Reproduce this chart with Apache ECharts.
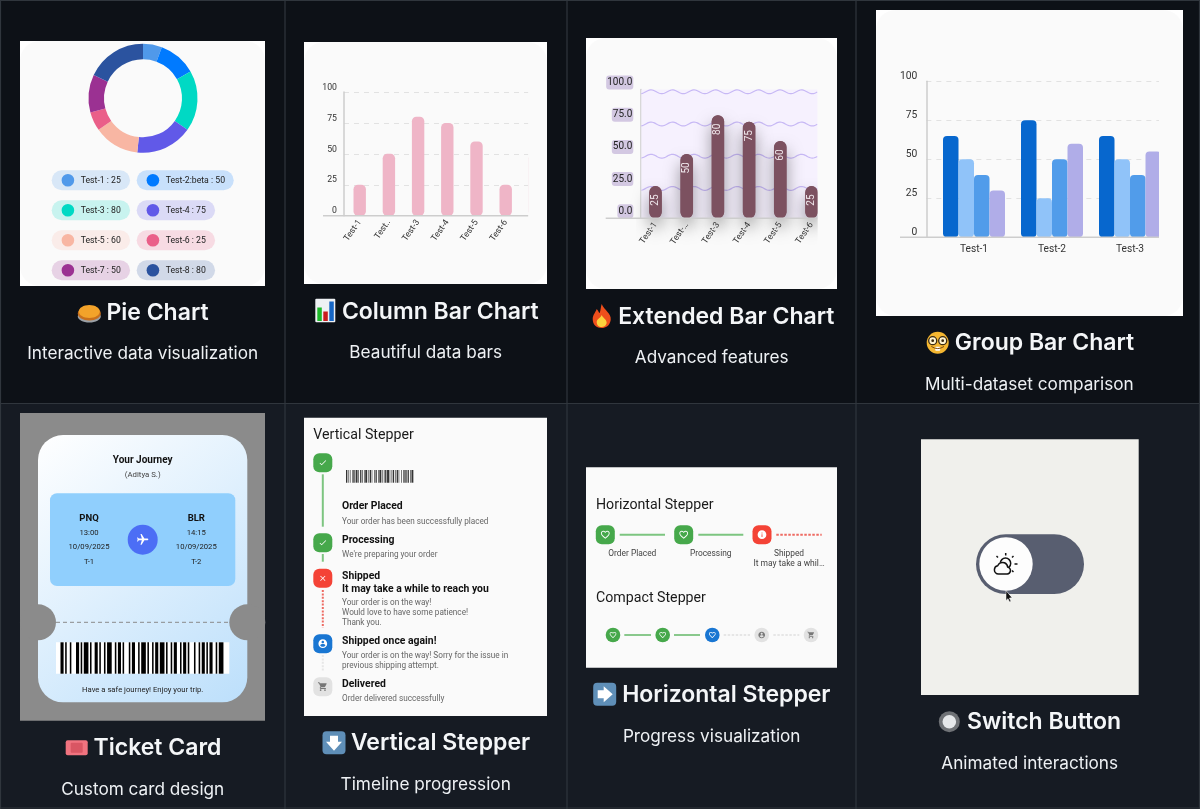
<!DOCTYPE html>
<html><head><meta charset="utf-8">
<style>html,body{margin:0;padding:0;background:#0d1117}#c{width:1200px;height:809px}</style>
<script src="https://cdn.jsdelivr.net/npm/echarts@6/dist/echarts.min.js"></script>
</head><body><div id="c"></div>
<script>
// ---------- data ----------
const pieLabels = ['Test-1','Test-2:beta','Test-3','Test-4','Test-5','Test-6','Test-7','Test-8'];
const pieValues = [25,50,80,75,60,25,50,80];
const pieColors = ['#5099EA','#007AFF','#00D9C4','#6159E8','#F8B6A3','#EA5F89','#9B3192','#2B539F'];
const columnLabels = ['Test-1','Test..','Test-3','Test-4','Test-5','Test-6','Test-7','Test-8'];
const columnValues = [25,50,80,75,60,25,50,80];
const extendedLabels = ['Test-1','Test-…','Test-3','Test-4','Test-5','Test-6'];
const extendedValues = [25,50,80,75,60,25];
const waveLevels = [100,75,50,25];
const groupLabels = ['Test-1','Test-2','Test-3'];
const groupA = [65,75,65];
const groupB = [50,25,50];
const groupC = [40,50,40];
const groupD = [30,60,55];
const groupColors = ['#0767CE','#90C3F9','#519CEA','#B0ADE8'];
const cardTitles = ['Pie Chart','Column Bar Chart','Extended Bar Chart','Group Bar Chart','Ticket Card','Vertical Stepper','Horizontal Stepper','Switch Button'];
const cardSubs = ['Interactive data visualization','Beautiful data bars','Advanced features','Multi-dataset comparison','Custom card design','Timeline progression','Progress visualization','Animated interactions'];
const barcodeWidths = [2,1,1,2,1,3,2,1,1,1,3,1,1,2,2,1,1,2,1,1,3,2,1,1,2,1,1,3,1,1,2,2,1,1,3,1,1,2,1,1,2,1,3,1,1,2,1,1,2,2,1,1,2,1,1,3,1,2,1,1,2,1,1,1,2,2,1,1,3,1];

// ---------- icons ----------
const ICON = {
 check:'M9 16.17L4.83 12l-1.42 1.41L9 19 21 7l-1.41-1.41z',
 close:'M19 6.41L17.59 5 12 10.59 6.41 5 5 6.41 10.59 12 5 17.59 6.41 19 12 13.41 17.59 19 19 17.59 13.41 12z',
 heart:'M16.5 3c-1.74 0-3.41.81-4.5 2.09C10.91 3.81 9.24 3 7.5 3 4.42 3 2 5.42 2 8.5c0 3.78 3.4 6.86 8.55 11.54L12 21.35l1.45-1.32C18.6 15.36 22 12.28 22 8.5 22 5.42 19.58 3 16.5 3zm-4.4 15.55l-.1.1-.1-.1C7.14 14.24 4 11.39 4 8.5 4 6.5 5.5 5 7.5 5c1.54 0 3.04.99 3.57 2.36h1.87C13.46 5.99 14.96 5 16.5 5c2 0 3.5 1.5 3.5 3.5 0 2.89-3.14 5.74-7.9 10.05z',
 info:'M12 2C6.48 2 2 6.48 2 12s4.48 10 10 10 10-4.48 10-10S17.52 2 12 2zm1 15h-2v-6h2v6zm0-8h-2V7h2v2z',
 user:'M12 2C6.48 2 2 6.48 2 12s4.48 10 10 10 10-4.48 10-10S17.52 2 12 2zm0 3c1.66 0 3 1.34 3 3s-1.34 3-3 3-3-1.34-3-3 1.34-3 3-3zm0 14.2c-2.5 0-4.71-1.28-6-3.22.03-1.99 4-3.08 6-3.08 1.99 0 5.97 1.09 6 3.08-1.29 1.94-3.5 3.22-6 3.22z',
 cart:'M7 18c-1.1 0-1.99.9-1.99 2S5.9 22 7 22s2-.9 2-2-.9-2-2-2zM1 2v2h2l3.6 7.59-1.35 2.45c-.16.28-.25.61-.25.96 0 1.1.9 2 2 2h12v-2H7.42c-.14 0-.25-.11-.25-.25l.03-.12.9-1.63h7.45c.75 0 1.41-.41 1.75-1.03l3.58-6.49c.08-.14.12-.31.12-.48 0-.55-.45-1-1-1H5.21l-.94-2H1zm16 16c-1.1 0-1.99.9-1.99 2s.89 2 1.99 2 2-.9 2-2-.9-2-2-2z',
 plane:'M21 16v-2l-8-5V3.5c0-.83-.67-1.5-1.5-1.5S10 2.67 10 3.5V9l-8 5v2l8-2.5V19l-2 1.5V22l3.5-1 3.5 1v-1.5L13 19v-5.5l8 2.5z'
};
// path shapes for the graphic component
let shapeId=0;
function pathShape(d){const n='svgPath'+(shapeId++);echarts.graphic.registerShape(n,echarts.graphic.extendPath(d,{}));return n;}

// ---------- graphic helpers ----------
const G = [];
const Z = 1;
function rect(x,y,w,h,fill,r,z){G.push({type:'rect',silent:true,z:z===undefined?Z:z,shape:{x,y,width:w,height:h,r:r||0},style:{fill}});}
function circle(cx,cy,r,fill,z,extra){G.push({type:'circle',silent:true,z:z===undefined?Z:z,shape:{cx,cy,r},style:Object.assign({fill},extra||{})});}
function line(x1,y1,x2,y2,stroke,lw,dash,z){G.push({type:'line',silent:true,z:z===undefined?Z:z,shape:{x1,y1,x2,y2},style:{stroke,lineWidth:lw||1,lineDash:dash||null}});}
function text(s,x,y,o){o=o||{};const a=o.a||'left';const dy=(o.f==='Inter')?0:0.7;
 G.push({type:'text',silent:true,z:o.z===undefined?Z:o.z,style:{text:s,x,y:y+dy,font:(o.w||400)+' '+(o.s||9)+'px '+(o.f||'Roboto'),fill:o.c||'#111',textAlign:a,align:a,textVerticalAlign:'middle',verticalAlign:'middle'}});}
function icon(d,cx,cy,size,fill,rot,z){const s=size/24;G.push({type:pathShape(d),silent:true,z:z===undefined?Z:z,x:cx-12,y:cy-12,originX:12,originY:12,scaleX:s,scaleY:s,rotation:rot||0,shape:{},style:{fill}});}
function rawPath(d,fill,stroke,lw,z){G.push({type:pathShape(d),silent:true,z:z===undefined?Z:z,shape:{},style:{fill:fill||'none',stroke:stroke||'none',lineWidth:lw||1,lineCap:'round'}});}

// page background and frame
const BG_Z=-2, P_Z=-1;
rect(0,0,1200,403,'#0d1117',0,BG_Z);
rect(0,403,1200,406,'#161b23',0,BG_Z);
const frame='#30363d';
[0.5,285,567,856,1199.5].forEach(x=>line(x,0,x,809,frame,1.2,null,BG_Z));
[0.5,403.5,808].forEach(y=>line(0,y,1200,y,frame,1.2,null,BG_Z));

// chart panels
function panel(x,y,w,h,r){rect(x,y,w,h,'#ffffff',0,P_Z);rect(x,y,w,h,'#fafafa',r,P_Z);}
panel(20,41,245,245,20);
panel(304,42,243,242,20);
panel(586,38,251,251,20);
panel(876,10,307,306,20);

// pie legend chips
const chipCol=[[51.7,78.3],[136.7,78.3]];
pieLabels.forEach((n,i)=>{
 const c=i%2, row=Math.floor(i/2), cy=180.3+row*30;
 const w=(i===1)?97:chipCol[c][1];
 G.push({type:'rect',silent:true,z:Z,shape:{x:chipCol[c][0],y:cy-10,width:w,height:20,r:10},style:{fill:pieColors[i],opacity:.2}});
 circle(chipCol[c][0]+16.2,cy,6.3,pieColors[i]);
 text(n+' : '+pieValues[i],chipCol[c][0]+29,cy,{s:8.7,c:'#222'});
});

// card titles
const titlePos=[[157.5,313,89.3],[440.3,312,325.3],[726.3,317,601.7],[1044.5,343.5,937.7],[157.5,748.5,76.7],[440.5,743.5,334],[726.3,695,604.7],[1044,722.5,949.3]];
const subPos=[[142.7,354],[425.7,353],[711.7,358],[1029.3,385],[142.7,790],[425.7,785],[711.7,736.5],[1029.7,763.5]];
cardTitles.forEach((t,i)=>text(t,titlePos[i][0],titlePos[i][1],{s:23,w:600,f:'Inter',c:'#f4f6f8',a:'center'}));
cardSubs.forEach((t,i)=>text(t,subPos[i][0],subPos[i][1],{s:17.2,f:'Inter',c:'#eef1f4',a:'center'}));

// emoji drawn as shapes
(function(){
 // pie
 let x=89.3,y=312.5;
 G.push({type:'ellipse',silent:true,z:Z,shape:{cx:x,cy:y+4,rx:11.5,ry:6},style:{fill:'#9aa0a6'}});
 G.push({type:'ellipse',silent:true,z:Z,shape:{cx:x,cy:y+1,rx:11.5,ry:7},style:{fill:'#c9701c'}});
 G.push({type:'ellipse',silent:true,z:Z,shape:{cx:x,cy:y-1,rx:10.5,ry:6.5},style:{fill:'#f3a32a'}});
 // bars
 x=325.3;y=310.5;
 rect(x-10,y-11.7,20,23.4,'#eef1f4',1);
 rect(x-8,y-3,4.5,13.5,'#1db82a');rect(x-2,y+1,4.5,9.5,'#c81e1e');rect(x+4,y-9,4.5,19.5,'#1666c5');
 // flame
 x=601.7;y=316;
 rawPath(`M${x} ${y-12} C${x+2} ${y-6} ${x+10} ${y-3} ${x+9} ${y+4} C${x+8} ${y+10} ${x+4} ${y+12} ${x} ${y+12} C${x-5} ${y+12} ${x-9} ${y+9} ${x-9} ${y+3} C${x-9} ${y-1} ${x-6} ${y-4} ${x-5} ${y-7} C${x-3} ${y-5} ${x-3} ${y-3} ${x-2} ${y-3} C${x-1} ${y-6} ${x-1} ${y-9} ${x} ${y-12}Z`,'#ee4f1c');
 rawPath(`M${x} ${y-1} C${x+1} ${y+2} ${x+5} ${y+3} ${x+5} ${y+7} C${x+4} ${y+10} ${x+2} ${y+11} ${x} ${y+11} C${x-3} ${y+11} ${x-5} ${y+9} ${x-5} ${y+6} C${x-5} ${y+3} ${x-1} ${y+2} ${x} ${y-1}Z`,'#fbd23c');
 // nerd
 x=937.7;y=342.7;
 circle(x,y,11,'#f5b731');
 rect(x-2.5,y+4,5,4,'#ffffff',1);
 rawPath(`M${x-6} ${y+4} Q${x} ${y+8} ${x+6} ${y+4}`,'none','#7a4a10',1);
 circle(x-5,y-2,4,'#fff4d0',Z,{stroke:'#3a2a10',lineWidth:1.3});circle(x+5,y-2,4,'#fff4d0',Z,{stroke:'#3a2a10',lineWidth:1.3});
 circle(x-5,y-2,1.4,'#3a2a10');circle(x+5,y-2,1.4,'#3a2a10');
 // ticket
 x=76.7;y=747.7;
 rect(x-11,y-7.5,22,15,'#f0737f',2);rect(x-6,y-5,12,10,'#d95663',1);
 // arrows
 x=334;y=742.7;
 rect(x-11.5,y-11.5,23,23,'#5f8fb8',4);
 rawPath(`M${x-4} ${y-7}h8v6h4l-8 9l-8 -9h4z`,'#ffffff');
 x=604.7;y=694.3;
 rect(x-11.5,y-11.5,23,23,'#5f8fb8',4);
 rawPath(`M${x-7} ${y-4}v8h6v4l9 -8l-9 -8v4z`,'#ffffff');
 // radio
 x=949.3;y=721.7;
 circle(x,y,10.5,'#6f7276');circle(x,y,6.8,'#e6e8ea');
})();

// ticket card
rect(20,413,245,307.7,'#8b8b8b',0,P_Z);
G.push({type:'rect',silent:true,z:Z,shape:{x:38,y:435,width:209.3,height:267.3,r:25},style:{fill:{type:'linear',x:0,y:0,x2:1,y2:1,colorStops:[{offset:0,color:'#ffffff'},{offset:1,color:'#bcdffb'}]}}});
text('Your Journey',142.7,460,{s:10,w:700,a:'center',c:'#111'});
text('(Aditya S.)',142.7,474,{s:7.8,a:'center',c:'#444'});
rect(50,493.3,185.3,92.7,'#90CFFD',7);
text('PNQ',89,518.3,{s:9.5,w:700,a:'center'});
text('13:00',89,532.3,{s:7.7,a:'center',c:'#222'});
text('10/09/2025',89,546.7,{s:7.7,a:'center',c:'#222'});
text('T-1',89,561,{s:7.7,a:'center',c:'#222'});
text('BLR',196.3,518.3,{s:9.5,w:700,a:'center'});
text('14:15',196.3,532.3,{s:7.7,a:'center',c:'#222'});
text('10/09/2025',196.3,546.7,{s:7.7,a:'center',c:'#222'});
text('T-2',196.3,561,{s:7.7,a:'center',c:'#222'});
circle(142.7,539.7,15,'#4C6EF5');
icon(ICON.plane,142.7,539.7,13.5,'#ffffff',-Math.PI/2);
circle(38,622.3,18,'#8b8b8b');circle(247.3,622.3,18,'#8b8b8b');
line(56,622.3,229.3,622.3,'#8a8a8a',1,[4,3]);
rect(56,642.3,173.3,31.4,'#ffffff');
function barcode(x0,x1,y0,y1,color){
 const total=barcodeWidths.reduce((a,b)=>a+b,0);let p=x0;const k=(x1-x0)/total;
 barcodeWidths.forEach((b,i)=>{if(i%2===0)rect(p,y0,b*k,y1-y0,color);p+=b*k;});
}
barcode(60.5,225,642.3,673.7,'#000000');
text('Have a safe journey! Enjoy your trip.',142.7,689,{s:7.7,a:'center',c:'#222'});

// vertical stepper
rect(304,417.7,243,298.3,'#fafafa',0,P_Z);
text('Vertical Stepper',313.3,434.3,{s:14.2,c:'#1a1a1a'});
const GREEN='#46A84B',RED='#F44336',BLUE='#1976D2',GREY='#E2E2E2';
function badge(cx,cy,color,ic,ig){rect(cx-9.5,cy-9.5,19,19,color,6);icon(ICON[ic],cx,cy,ic==='check'||ic==='close'?9:10.5,ig||'#ffffff');}
badge(322.8,462.7,GREEN,'check');badge(322.8,542.7,GREEN,'check');badge(322.8,578.3,RED,'close');badge(322.8,643.7,BLUE,'user');badge(322.8,686.7,GREY,'cart','#777777');
line(322.8,474.3,322.8,526.7,'#7DC580',2);
line(322.8,554,322.8,561.7,'#7DC580',2);
line(322.8,590,322.8,627.7,'#EE6B63',2,[2,1.4]);
line(322.8,655,322.8,671,'#E6E6E6',2,[2,1.4]);
barcode(346,414,470,482.7,'#333333');
const stepTitle={s:10.4,w:700,c:'#111'}, stepBody={s:8.2,c:'#666'};
[['Order Placed',506,stepTitle],['Your order has been successfully placed',521,stepBody],
 ['Processing',539.7,stepTitle],["We're preparing your order",554.3,stepBody],
 ['Shipped',575.3,stepTitle],['It may take a while to reach you',588.3,stepTitle],
 ['Your order is on the way!',602.7,stepBody],['Would love to have some patience!',612.3,stepBody],['Thank you.',622.3,stepBody],
 ['Shipped once again!',640.7,stepTitle],['Your order is on the way! Sorry for the issue in',655.7,stepBody],['previous shipping attempt.',665.3,stepBody],
 ['Delivered',683.7,stepTitle],['Order delivered successfully',698.3,stepBody]
].forEach(r=>text(r[0],342,r[1],r[2]));

// horizontal stepper
rect(586,467.3,251,200.4,'#fafafa',0,P_Z);
text('Horizontal Stepper',596,505,{s:14.2,c:'#1a1a1a'});
badge(605.3,534.7,GREEN,'heart');badge(683.7,534.7,GREEN,'heart');badge(762,534.7,RED,'info');
line(619.7,534.7,665,534.7,'#7DC580',2);line(698.3,534.7,743.3,534.7,'#7DC580',2);line(776.3,534.7,821.7,534.7,'#EE6B63',2,[2.5,1.5]);
text('Order Placed',632.3,553.3,{s:8.4,a:'center',c:'#444'});
text('Processing',710.7,553.3,{s:8.4,a:'center',c:'#444'});
text('Shipped',789,553.3,{s:8.4,a:'center',c:'#444'});
text('It may take a whil…',789,563.3,{s:8.5,a:'center',c:'#444'});
text('Compact Stepper',596,597.7,{s:14.2,c:'#1a1a1a'});
[[613,GREEN,'heart','#fff'],[662.7,GREEN,'heart','#fff'],[712.3,BLUE,'heart','#fff'],[761.7,GREY,'user','#777'],[811,GREY,'cart','#777']].forEach(a=>{circle(a[0],635,7.3,a[1]);icon(ICON[a[2]],a[0],635,8,a[3]);});
line(624.3,635,651,635,'#6DBB70',1.6);line(674,635,700,635,'#6DBB70',1.6);
line(723.7,635,750,635,'#E0E0E0',1.6,[2.5,1.5]);line(773.3,635,799.3,635,'#E0E0E0',1.6,[2.5,1.5]);

// switch
rect(921,439.3,217.7,255.7,'#F0F0EC',0,P_Z);
rect(976,534.3,108,59.7,'#585E70',29.8);
circle(1006,564,26.7,'#FDFDFD');
(function(){
 const k='#111';
 circle(1005.5,563.3,5.2,'#FDFDFD',Z,{stroke:k,lineWidth:1.5});
 [[1005.7,553,1005.7,555.5],[996.5,556,998,557.5],[1013.5,556,1012,557.5],[1014.5,564,1017.5,564],[1012,570.5,1013.5,572]].forEach(s=>line(s[0],s[1],s[2],s[3],k,1.5));
 rawPath('M998.5 574 a4.2 4.2 0 0 1 -0.8 -8.3 a5.2 5.2 0 0 1 10 1.4 a3.5 3.5 0 0 1 -0.4 6.9 z','#FDFDFD',k,1.5);
 rawPath('M1006 591 l0 9.5 l2 -1.8 l1.6 3.3 l1.4 -0.7 l-1.6 -3.2 l2.6 -0.3 z','#111111','#ffffff',0.5,110);
})();

// ---------- masks for the clipped charts ----------
rect(528.4,88,18.6,175,'#fafafa',0,100);
rect(817.7,80,19,180,'#fafafa',0,100);
rect(600,247,237,16,'#fafafa',0,100);
rect(606,219.2,30,28,'#fafafa',0,100);
rect(1159,70,23.7,175,'#fafafa',0,100);

// ---------- charts ----------
const AX='#CDCDCD', SPLIT='#E2E2E2', LBL='#333333';
function xRange(left,right,first,band){return {min:(left-first)/band,max:(right-first)/band};}
function yAxis(gi,o){return Object.assign({type:'value',gridIndex:gi,min:0,max:100,interval:25,
 axisLine:{show:true,onZero:false,lineStyle:{color:AX,width:1.5}},axisTick:{show:false},
 splitLine:{show:true,lineStyle:{color:SPLIT,type:[5,5],width:1}}},o);}
function xAxis(gi,r,labels,lab,count){return {type:'value',gridIndex:gi,min:r.min,max:r.max,z:7,
 axisLine:{show:false},axisTick:{show:false},splitLine:{show:false},
 axisLabel:Object.assign({customValues:labels.slice(0,count).map((_,i)=>i),formatter:v=>labels[v],color:LBL,fontFamily:'Roboto',showMinLabel:true,showMaxLabel:true,hideOverlap:false},lab)};}
const pts=a=>a.map((v,i)=>[i,v]);

// grid rectangles
const g2={left:344,top:92,right:528.3,bottom:215.7}, g3={left:640.3,top:89.5,right:817.7,bottom:218.3}, g4={left:926.3,top:81.3,right:1159,bottom:237.3};
const gridOf=g=>({left:g.left,top:g.top,width:g.right-g.left,height:g.bottom-g.top,containLabel:false});
line(323,g2.bottom,g2.right,g2.bottom,AX,1.5,null,8);
line(605.7,g3.bottom,g3.right,g3.bottom,AX,1.5,null,8);
line(900,g4.bottom,g4.right,g4.bottom,AX,1.5,null,8);

const option={
 animation:false,
 backgroundColor:'#0d1117',
 graphic:{elements:G},
 grid:[gridOf(g2),gridOf(g3),gridOf(g4)],
 xAxis:[
  xAxis(0,xRange(g2.left,g2.right,359.7,29.2),columnLabels,{rotate:55,fontSize:8.7,margin:5},7),
  xAxis(1,xRange(g3.left,g3.right,655.5,31.2),extendedLabels,{rotate:55,fontSize:8.7,margin:5},6),
  xAxis(2,xRange(g4.left,g4.right,974,78),groupLabels,{fontSize:10.2,margin:7},3)
 ],
 yAxis:[
  yAxis(0,{axisLabel:{color:LBL,fontSize:8.7,margin:7,fontFamily:'Roboto',verticalAlign:'bottom'}}),
  yAxis(1,{splitLine:{show:false},axisLabel:{color:'#222',fontSize:10,margin:7,fontFamily:'Roboto',verticalAlign:'bottom',backgroundColor:'#D3C8E2',borderRadius:3,padding:[2,1,2,1],formatter:v=>v.toFixed(1)}}),
  yAxis(2,{axisLabel:{color:LBL,fontSize:10.3,margin:9,fontFamily:'Roboto',verticalAlign:'bottom'}})
 ],
 series:[
  {type:'pie',center:[143,98.3],radius:[39,54.5],startAngle:90,silent:true,label:{show:false},labelLine:{show:false},
   data:pieLabels.map((n,i)=>({name:n,value:pieValues[i],itemStyle:{color:pieColors[i]}}))},
  {type:'bar',xAxisIndex:0,yAxisIndex:0,barWidth:12.4,silent:true,z:5,data:pts(columnValues),itemStyle:{color:'#EFB5C7',borderRadius:4.5}},
  {type:'custom',xAxisIndex:1,yAxisIndex:1,silent:true,z:1,data:[[0,100]],encode:{x:0,y:1},
   renderItem:(p,api)=>{const c=p.coordSys,b=api.coord([0,0])[1],t=api.coord([0,100])[1];
    return {type:'rect',shape:{x:c.x+1,y:t,width:c.width-1,height:b-t},style:{fill:'#F6F1FE'}};}},
  {type:'custom',xAxisIndex:1,yAxisIndex:1,silent:true,z:2,data:waveLevels.map(v=>[0,v]),encode:{x:0,y:1},
   renderItem:(p,api)=>{const c=p.coordSys,y=api.coord([0,api.value(1)])[1]+2.3,points=[];
    for(let x=c.x+1;x<=c.x+c.width;x+=1)points.push([x,y+1.9*Math.cos((x-c.x)/21.5*2*Math.PI)]);
    return {type:'polyline',shape:{points},style:{fill:null,stroke:'#C7B8F5',lineWidth:1.2}};}},
  // soft shadow under the extended bars (the bar series clips its own shadow)
  {type:'custom',xAxisIndex:1,yAxisIndex:1,silent:true,z:4,data:pts(extendedValues),encode:{x:0,y:1},
   renderItem:(p,api)=>{const a=api.coord([api.value(0),api.value(1)]),b=api.coord([api.value(0),0]);
    return {type:'rect',shape:{x:a[0]-6,y:a[1],width:12,height:b[1]-a[1],r:6},style:{fill:'#7C5160',shadowColor:'rgba(0,0,0,.42)',shadowBlur:16,shadowOffsetY:9}};}},
  {type:'bar',xAxisIndex:1,yAxisIndex:1,barWidth:12.7,silent:true,z:5,data:pts(extendedValues),
   itemStyle:{color:'#7C5160',borderRadius:6.3}},
  {type:'custom',xAxisIndex:1,yAxisIndex:1,silent:true,z:6,data:pts(extendedValues),encode:{x:0,y:1},
   renderItem:(p,api)=>{const v=api.value(1),pos=api.coord([api.value(0),v]);
    return {type:'text',x:pos[0],y:pos[1]+14,rotation:Math.PI/2,style:{text:String(v),fill:'#F0E8EC',font:'400 10px Roboto',align:'center',verticalAlign:'middle',textAlign:'center',textVerticalAlign:'middle'}};}},
  ...[groupA,groupB,groupC,groupD].map((arr,i)=>({type:'bar',xAxisIndex:2,yAxisIndex:2,barWidth:15.5,barGap:'0%',silent:true,z:5,data:pts(arr),itemStyle:{color:groupColors[i],borderRadius:4}}))
 ]
};
const chart=echarts.init(document.getElementById('c'),null,{renderer:'canvas',width:1200,height:809});
chart.setOption(option);
</script></body></html>
